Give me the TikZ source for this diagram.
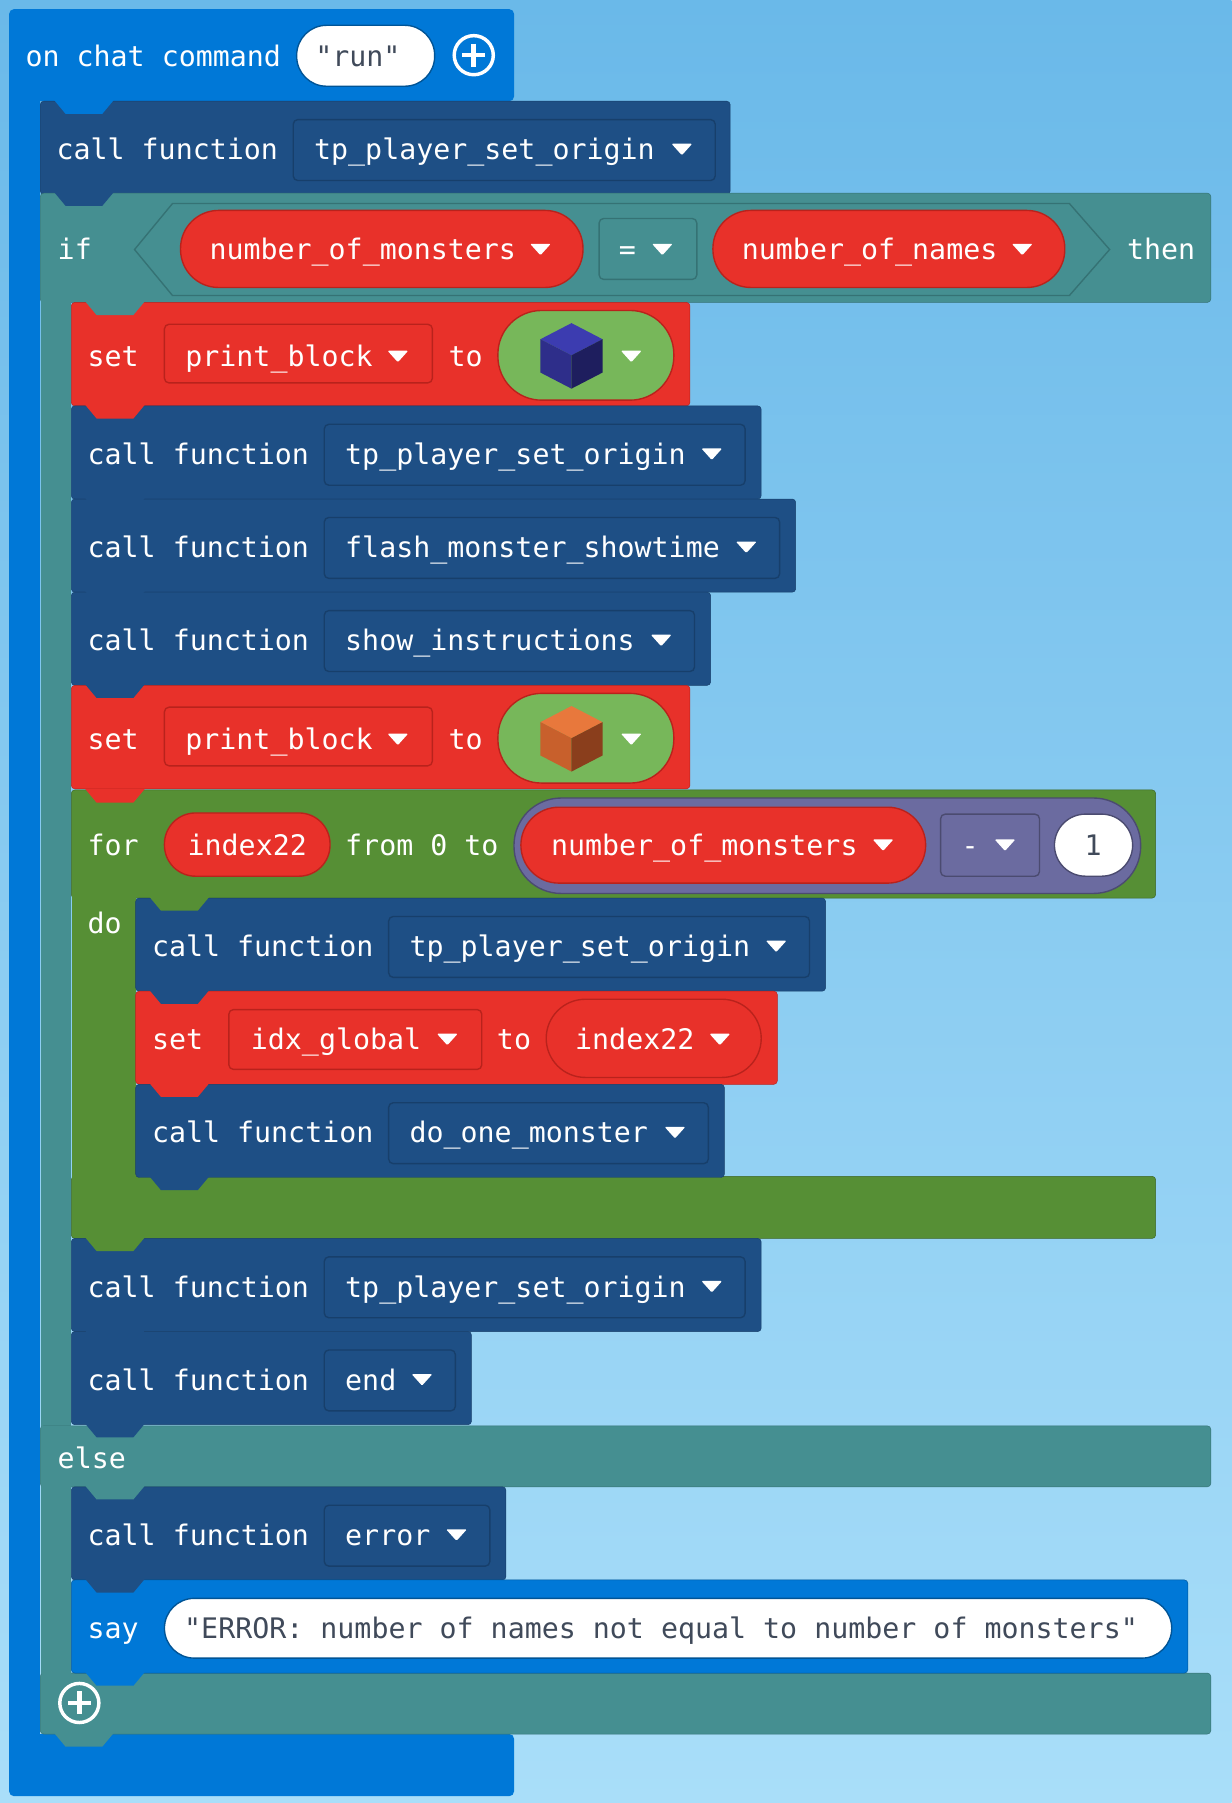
\documentclass[tikz,border=0pt]{standalone}
\usepackage{fontspec}
\setmonofont{DejaVu Sans Mono}
\definecolor{bgtop}{HTML}{6AB9E9}
\definecolor{bgbot}{HTML}{A9DEF9}
\definecolor{evblue}{HTML}{0078D7}
\definecolor{callblue}{HTML}{1E4F85}
\definecolor{callline}{HTML}{173F6B}
\definecolor{varred}{HTML}{E8312A}
\definecolor{varline}{HTML}{B9221C}
\definecolor{logic}{HTML}{458F91}
\definecolor{logicline}{HTML}{357274}
\definecolor{loopgreen}{HTML}{568F35}
\definecolor{mathpurple}{HTML}{6B6BA0}
\definecolor{itemgreen}{HTML}{77B75A}
\definecolor{strgrey}{HTML}{404A5A}
\definecolor{bluefront}{HTML}{2E2E8A}
\definecolor{blueside}{HTML}{1E1E5E}
\definecolor{bluetop}{HTML}{3C3CB0}
\definecolor{orfront}{HTML}{C8602C}
\definecolor{orside}{HTML}{8A3E1C}
\definecolor{ortop}{HTML}{E8783C}
\tikzset{
  txt/.style={anchor=base west,yshift=-9pt,text=white,inner sep=0pt,font=\ttfamily\fontsize{24.6}{25}\selectfont},
  strtxt/.style={txt,text=strgrey},
  fld/.style={rounded corners=4pt,line width=1.2pt},
}
% dropdown arrow
\newcommand\dd[2]{\fill[white,rounded corners=1pt] ({#1-9},{#2-5}) -- ({#1+9},{#2-5}) -- (#1,{#2+5}) -- cycle;}
% notch tab under a block: left x, bottom y, colour
\newcommand\tab[3]{\fill[#3] ({#1+12},{#2-1}) -- ({#1+64},{#2-1}) -- ({#1+54},{#2+11}) -- ({#1+22},{#2+11}) -- cycle;}
% call function block: name, left, top, right, field right, label
\newcommand\callblk[6]{%
  \fill[callblue,draw=callline,rounded corners=3pt] (#2,#3) rectangle (#4,{#3+81});
  \node[txt] (#1) at ({#2+14},{#3+42}) {call function};
  \draw[fld,draw=callline,fill=callblue] ({#2+220},{#3+16}) rectangle (#5,{#3+69});
  \node[txt] (#1f) at ({#2+238},{#3+42}) {#6};
  \dd{#5-29}{#3+42}}
% set block with item: name, top, cube front, cube side, cube top
\newcommand\setitem[5]{%
  \fill[varred,draw=varline,rounded corners=3pt] (62,#2) rectangle (600,{#2+90});
  \node[txt] (#1) at (76,{#2+47}) {set};
  \draw[fld,draw=varline,fill=varred] (143,{#2+19}) rectangle (376,{#2+70});
  \node[txt] (#1v) at (161,{#2+47}) {print\_block};
  \dd{346}{#2+47}
  \node[txt] at (390,{#2+47}) {to};
  \draw[line width=1.2pt,draw=varline,fill=itemgreen,rounded corners=38pt] (433,{#2+7}) rectangle (586,{#2+85});
  \fill[#5] (497,{#2+18}) -- (524,{#2+32}) -- (497,{#2+46}) -- (470,{#2+32}) -- cycle;
  \fill[#3] (470,{#2+32}) -- (497,{#2+46}) -- (497,{#2+75}) -- (470,{#2+61}) -- cycle;
  \fill[#4] (524,{#2+32}) -- (497,{#2+46}) -- (497,{#2+75}) -- (524,{#2+61}) -- cycle;
  \dd{549}{#2+47}}

\begin{document}
\begin{tikzpicture}[x=1pt,y=-1pt]
\shade[top color=bgtop,bottom color=bgbot] (0,0) rectangle (1071,1568);
\useasboundingbox (0,0) rectangle (1071,1568);
% event block
\fill[evblue,rounded corners=4pt] (8,8) rectangle (447,88);
\fill[evblue] (8,80) rectangle (35,1515);
\fill[evblue,rounded corners=4pt] (8,1508) rectangle (447,1562);
\node[txt] (ev) at (22,49) {on chat command};
\draw[line width=1.2pt,draw=evblue!70!black,fill=white,rounded corners=26pt] (258,22) rectangle (378,75);
\node[strtxt] (run) at (274,49) {"run"};
\draw[white,line width=3pt] (412,48) circle (17);
\draw[white,line width=4pt] (402,48) -- (422,48) (412,38) -- (412,58);
\callblk{c1}{35}{88}{635}{622}{tp\_player\_set\_origin}
% if block
\fill[logic,draw=logicline,rounded corners=3pt] (35,168) rectangle (1053,263);
\fill[logic] (36,255) rectangle (62,1500);
\fill[logic,draw=logicline,rounded corners=3pt] (35,1240) rectangle (1053,1293);
\fill[logic,draw=logicline,rounded corners=3pt] (35,1455) rectangle (1053,1508);
\fill[logic] (36,1240) rectangle (62,1294) (36,1454) rectangle (62,1456);
\node[txt] (if) at (50,217) {if};
\draw[line width=1.2pt,draw=logicline] (150,177) -- (930,177) -- (965,217) -- (930,257) -- (150,257) -- (117,217) -- cycle;
\draw[line width=1.2pt,draw=varline,fill=varred,rounded corners=33pt] (157,183) rectangle (507,250);
\node[txt] (nm) at (182,217) {number\_of\_monsters};
\dd{470}{217}
\draw[fld,draw=logicline,fill=logic] (521,190) rectangle (606,243);
\node[txt] (eq) at (538,217) {=};
\dd{576}{217}
\draw[line width=1.2pt,draw=varline,fill=varred,rounded corners=33pt] (620,183) rectangle (926,250);
\node[txt] (nn) at (645,217) {number\_of\_names};
\dd{889}{217}
\node[txt] (then) at (980,217) {then};
\setitem{s1}{263}{bluefront}{blueside}{bluetop}
\callblk{c2}{62}{353}{662}{648}{tp\_player\_set\_origin}
\callblk{c3}{62}{434}{692}{678}{flash\_monster\_showtime}
\callblk{c4}{62}{515}{618}{604}{show\_instructions}
\setitem{s2}{596}{orfront}{orside}{ortop}
% for loop
\fill[loopgreen,draw=loopgreen!70!black,rounded corners=3pt] (62,687) rectangle (1005,781);
\fill[loopgreen] (63,775) rectangle (118,1030);
\fill[loopgreen,draw=loopgreen!70!black,rounded corners=3pt] (62,1023) rectangle (1005,1077);
\fill[loopgreen] (63,1020) rectangle (118,1026);
\node[txt] (for) at (76,735) {for};
\draw[line width=1.2pt,draw=varline,fill=varred,rounded corners=27pt] (143,707) rectangle (287,762);
\node[txt] (ix) at (163,735) {index22};
\node[txt] (from) at (300,735) {from 0 to};
\draw[line width=1.2pt,draw=mathpurple!70!black,fill=mathpurple,rounded corners=41pt] (447,694) rectangle (992,777);
\draw[line width=1.2pt,draw=varline,fill=varred,rounded corners=33pt] (453,702) rectangle (805,768);
\node[txt] (nm2) at (479,735) {number\_of\_monsters};
\dd{768}{735}
\draw[fld,draw=mathpurple!70!black,fill=mathpurple] (818,708) rectangle (904,762);
\node[txt] (minus) at (836,735) {-};
\dd{874}{735}
\draw[line width=1.2pt,draw=mathpurple!70!black,fill=white,rounded corners=27pt] (917,708) rectangle (985,762);
\node[strtxt] (one) at (943,735) {1};
\node[txt] (do) at (76,803) {do};
\callblk{c5}{118}{781}{718}{704}{tp\_player\_set\_origin}
\fill[varred,draw=varline,rounded corners=3pt] (118,862) rectangle (676,943);
\node[txt] (s3) at (132,904) {set};
\draw[fld,draw=varline,fill=varred] (199,878) rectangle (419,930);
\node[txt] (idx) at (218,904) {idx\_global};
\dd{389}{904}
\node[txt] (to3) at (432,904) {to};
\draw[line width=1.2pt,draw=varline,fill=varred,rounded corners=34pt] (475,869) rectangle (662,937);
\node[txt] (ix2) at (500,904) {index22};
\dd{626}{904}
\callblk{c6}{118}{943}{630}{616}{do\_one\_monster}
\callblk{c7}{62}{1077}{662}{648}{tp\_player\_set\_origin}
\callblk{c8}{62}{1158}{410}{396}{end}
\node[txt] (else) at (50,1268) {else};
\callblk{c9}{62}{1293}{440}{426}{error}
% say
\fill[evblue,draw=evblue!70!black,rounded corners=3pt] (62,1374) rectangle (1033,1455);
\node[txt] (say) at (76,1416) {say};
\draw[line width=1.2pt,draw=evblue!70!black,fill=white,rounded corners=26pt] (143,1390) rectangle (1019,1442);
\node[strtxt] (msg) at (160,1416) {"ERROR: number of names not equal to number of monsters"};
\draw[white,line width=3pt] (69,1481) circle (17);
\draw[white,line width=4pt] (59,1481) -- (79,1481) (69,1471) -- (69,1491);
% notches
\tab{35}{88}{evblue}
\tab{35}{168}{callblue}
\tab{62}{263}{logic}
\tab{62}{353}{varred}
\tab{62}{434}{callblue}
\tab{62}{515}{callblue}
\tab{62}{596}{callblue}
\tab{62}{687}{varred}
\tab{118}{781}{loopgreen}
\tab{118}{862}{callblue}
\tab{118}{943}{varred}
\tab{118}{1024}{callblue}
\tab{62}{1077}{loopgreen}
\tab{62}{1158}{callblue}
\tab{62}{1239}{callblue}
\tab{62}{1293}{logic}
\tab{62}{1374}{callblue}
\tab{62}{1455}{evblue}
\tab{35}{1508}{logic}
\end{tikzpicture}
\end{document}
